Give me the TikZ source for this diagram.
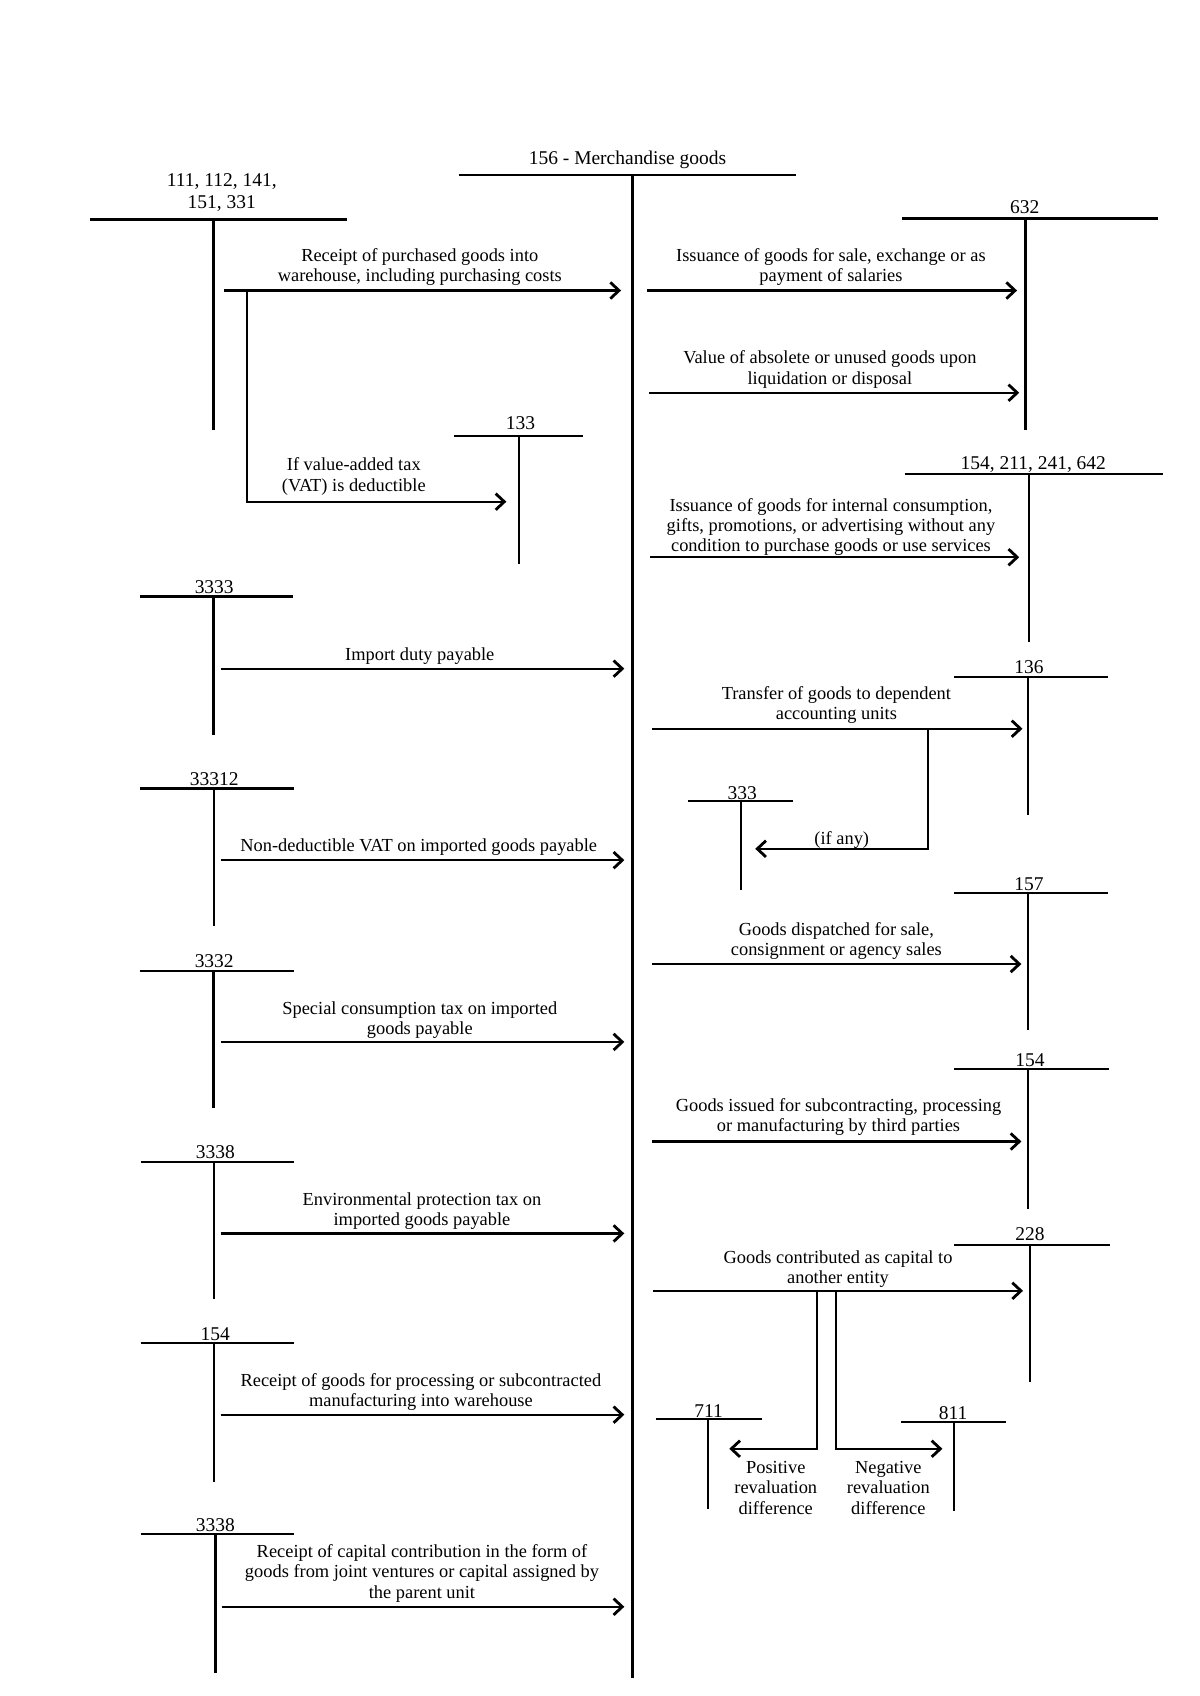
\documentclass[tikz,border=0pt]{standalone}
\usepackage{fontspec}
\setmainfont{Liberation Serif}
\usetikzlibrary{arrows.meta}
\begin{document}
\begin{tikzpicture}[x=0.5pt,y=-0.5pt,
  thk/.style={line width=1.4pt},
  thn/.style={line width=0.95pt},
  flow/.style={line width=1pt,-{Straight Barb[length=4pt,width=7.5pt,line width=1.3pt]}},
  link/.style={line width=1.1pt},
  acct/.style={font=\fontsize{9}{10}\selectfont, inner sep=0pt, align=center},
  lbl/.style={font=\fontsize{8.5}{9.4}\selectfont, align=center, inner sep=0pt}
]
\useasboundingbox (0,0) rectangle (1109,1567.5);

% ---------- 156 main account ----------
\node[acct] (n156) at (580,148) {156 - Merchandise goods};
\draw[thn] (424,162) -- (736,162);
\coordinate (m156t) at (585,162);
\coordinate (m156b) at (585,1551);
\draw[thk] (m156t) -- (m156b);

% ---------- left accounts ----------
\node[acct] (nA) at (205,178) {111, 112, 141,\\151, 331};
\draw[thk] (83,202.5) -- (321,202.5);
\draw[thk] (197.5,202.5) -- (197.5,397);

\node[acct] (n133) at (481,391) {133};
\draw[thn] (420,403) -- (539,403);
\draw[thn] (480,403) -- (480,521);

\node[acct] (n3333) at (198,543) {3333};
\draw[thk] (129,551) -- (271,551);
\draw[thk] (197,551) -- (197,679);

\node[acct] (n33312) at (198,720) {33312};
\draw[thk] (129,729) -- (272,729);
\draw[thn] (198,729) -- (198,856);

\node[acct] (n3332) at (198,888) {3332};
\draw[thn] (129,897) -- (272,897);
\draw[thk] (197,897) -- (197,1024);

\node[acct] (n3338a) at (199,1065) {3338};
\draw[thn] (130,1074) -- (272,1074);
\draw[thn] (198,1074) -- (198,1201);

\node[acct] (n154l) at (199,1233) {154};
\draw[thn] (130,1241) -- (272,1241);
\draw[thn] (198,1241) -- (198,1370);

\node[acct] (n3338b) at (199,1410) {3338};
\draw[thn] (130,1418) -- (272,1418);
\draw[thk] (199,1418) -- (199,1546);

% ---------- right accounts ----------
\node[acct] (n632) at (947,191) {632};
\draw[thk] (834,202) -- (1070,202);
\draw[thk] (948,202) -- (948,397);

\node[acct] (n154b) at (955,429) {154, 211, 241, 642};
\draw[thn] (836,438) -- (1075,438);
\draw[link] (951,438) -- (951,593);

\node[acct] (n136) at (951,617) {136};
\draw[thn] (882,626) -- (1024,626);
\draw[thn] (950.5,626) -- (950.5,753);

\node[acct] (n333) at (686,733) {333};
\draw[thn] (636,740) -- (733,740);
\draw[thn] (685,740) -- (685,822.5);

\node[acct] (n157) at (951,817) {157};
\draw[thn] (882,825.5) -- (1024,825.5);
\draw[thn] (950,825.5) -- (950,952);

\node[acct] (n154r) at (952,980) {154};
\draw[thn] (882,988) -- (1025,988);
\draw[link] (950,988) -- (950,1117);

\node[acct] (n228) at (952,1141) {228};
\draw[thn] (882,1151) -- (1026,1151);
\draw[thn] (952,1151) -- (952,1277);

\node[acct] (n711) at (655,1304) {711};
\draw[thn] (606,1311.5) -- (704,1311.5);
\draw[thn] (654.6,1311.5) -- (654.6,1395);

\node[acct] (n811) at (881,1306) {811};
\draw[thn] (833,1314) -- (930,1314);
\draw[thn] (882,1314) -- (882,1396.5);

% ---------- debit side of 156 (left arrows) ----------
\coordinate (a1s) at (207,268.5);  \coordinate (a1e) at (574,268.5);
\draw[flow] (a1s) -- (a1e);
\node[lbl] (t1) at (388,246.5) {Receipt of purchased goods into\\warehouse, including purchasing costs};

\coordinate (b1s) at (228,268.5); \coordinate (b1c) at (228,463.7); \coordinate (b1e) at (468,463.7);
\draw[link,-{Straight Barb[length=4pt,width=7.5pt,line width=1.3pt]}] (b1s) -- (b1c) -- (b1e);
\node[lbl] (tb1) at (327,440.5) {If value-added tax\\(VAT) is deductible};

\coordinate (a2s) at (204,618); \coordinate (a2e) at (577,618);
\draw[flow] (a2s) -- (a2e);
\node[lbl] (t2) at (388,606) {Import duty payable};

\coordinate (a3s) at (204,795); \coordinate (a3e) at (577,795);
\draw[flow] (a3s) -- (a3e);
\node[lbl] (t3) at (387,783) {Non-deductible VAT on imported goods payable};

\coordinate (a4s) at (204,963); \coordinate (a4e) at (577,963);
\draw[flow] (a4s) -- (a4e);
\node[lbl] (t4) at (388,942.5) {Special consumption tax on imported\\goods payable};

\coordinate (a5s) at (204,1140); \coordinate (a5e) at (577,1140);
\draw[flow] (a5s) -- (a5e);
\node[lbl] (t5) at (390,1119.5) {Environmental protection tax on\\imported goods payable};

\coordinate (a6s) at (204,1307.5); \coordinate (a6e) at (577,1307.5);
\draw[flow] (a6s) -- (a6e);
\node[lbl] (t6) at (389,1286.5) {Receipt of goods for processing or subcontracted\\manufacturing into warehouse};

\coordinate (a7s) at (205,1485); \coordinate (a7e) at (577,1485);
\draw[flow] (a7s) -- (a7e);
\node[lbl] (t7) at (390,1454) {Receipt of capital contribution in the form of\\goods from joint ventures or capital assigned by\\the parent unit};

% ---------- credit side of 156 (right arrows) ----------
\coordinate (r1s) at (598,268.5); \coordinate (r1e) at (940,268.5);
\draw[flow] (r1s) -- (r1e);
\node[lbl] (u1) at (768,246.5) {Issuance of goods for sale, exchange or as\\payment of salaries};

\coordinate (r2s) at (600,363); \coordinate (r2e) at (942,363);
\draw[flow] (r2s) -- (r2e);
\node[lbl] (u2) at (767,341.5) {Value of absolete or unused goods upon\\liquidation or disposal};

\coordinate (r3s) at (601,515); \coordinate (r3e) at (942,515);
\draw[flow] (r3s) -- (r3e);
\node[lbl] (u3) at (768,487) {Issuance of goods for internal consumption,\\gifts, promotions, or advertising without any\\condition to purchase goods or use services};

\coordinate (r4s) at (603,673.5); \coordinate (r4e) at (945,673.5);
\draw[flow] (r4s) -- (r4e);
\node[lbl] (u4) at (773,651.5) {Transfer of goods to dependent\\accounting units};

\coordinate (b2s) at (857.5,673.5); \coordinate (b2c) at (857.5,784.5); \coordinate (b2e) at (698,784.5);
\draw[link,-{Straight Barb[length=4pt,width=7.5pt,line width=1.3pt]}] (b2s) -- (b2c) -- (b2e);
\node[lbl] (ub2) at (778,776) {(if any)};

\coordinate (r5s) at (603,891); \coordinate (r5e) at (944,891);
\draw[flow] (r5s) -- (r5e);
\node[lbl] (u5) at (773,870) {Goods dispatched for sale,\\consignment or agency sales};

\coordinate (r6s) at (603,1055); \coordinate (r6e) at (944,1055);
\draw[flow] (r6s) -- (r6e);
\node[lbl] (u6) at (775,1032.5) {Goods issued for subcontracting, processing\\or manufacturing by third parties};

\coordinate (r7s) at (603.5,1193); \coordinate (r7e) at (945.5,1193);
\draw[flow] (r7s) -- (r7e);
\node[lbl] (u7) at (774.5,1173) {Goods contributed as capital to\\another entity};

\coordinate (b3s) at (755,1193); \coordinate (b3c) at (755,1339); \coordinate (b3e) at (674,1339);
\draw[link,-{Straight Barb[length=4pt,width=7.5pt,line width=1.3pt]}] (b3s) -- (b3c) -- (b3e);
\coordinate (b4s) at (772.6,1193); \coordinate (b4c) at (772.6,1339); \coordinate (b4e) at (871,1339);
\draw[link,-{Straight Barb[length=4pt,width=7.5pt,line width=1.3pt]}] (b4s) -- (b4c) -- (b4e);
\node[lbl] (ub3) at (717,1375) {Positive\\revaluation\\difference};
\node[lbl] (ub4) at (821,1375) {Negative\\revaluation\\difference};

\end{tikzpicture}
\end{document}
